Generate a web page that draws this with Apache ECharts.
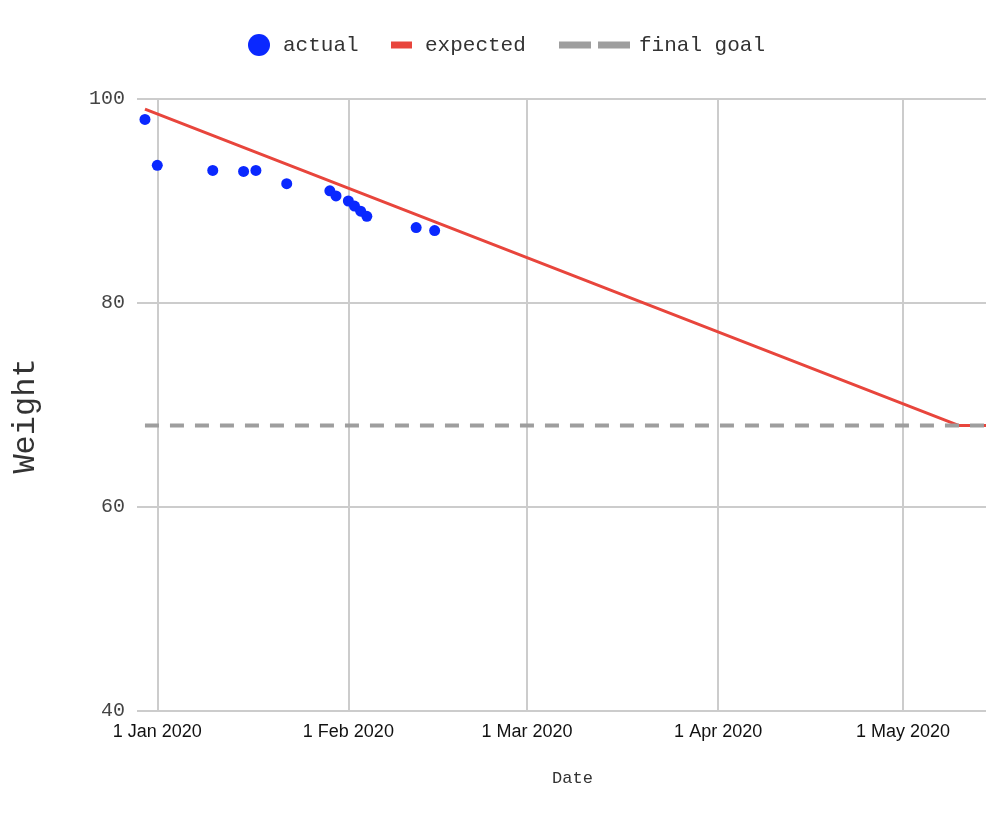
<!DOCTYPE html>
<html>
<head>
<meta charset="utf-8">
<title>Weight</title>
<script src="https://cdn.jsdelivr.net/npm/echarts@6.0.0/dist/echarts.min.js"></script>
<style>
  html, body { margin: 0; padding: 0; background: #fff; }
  #chart { width: 986px; height: 834px; }
</style>
</head>
<body>
<div id="chart"></div>
<script>
// data
var actualDates = ['2019-12-30', '2020-01-01', '2020-01-10', '2020-01-15', '2020-01-17', '2020-01-22',
  '2020-01-29', '2020-01-30', '2020-02-01', '2020-02-02', '2020-02-03', '2020-02-04', '2020-02-12', '2020-02-15'];
var actualWeights = [98, 93.5, 93, 92.9, 93, 91.7, 91, 90.5, 90, 89.5, 89, 88.5, 87.4, 87.1];

var expectedDates = ['2019-12-30', '2020-05-10', '2020-05-16'];
var expectedWeights = [99, 68, 68];

var goalDates = ['2019-12-30', '2020-05-16'];
var goalWeights = [68, 68];

var monthNames = ['Jan', 'Feb', 'Mar', 'Apr', 'May', 'Jun', 'Jul', 'Aug', 'Sep', 'Oct', 'Nov', 'Dec'];
var yMin = 40, yMax = 100, yStep = 20;

function toTime(s) { return Date.parse(s + 'T00:00:00Z'); }
function pairs(dates, values) {
  return dates.map(function (d, i) { return [toTime(d), values[i]]; });
}

var xMin = Date.parse('2019-12-28T17:00:00Z');
var xMax = Date.parse('2020-05-14T11:00:00Z');

var mono = "'Liberation Mono', 'DejaVu Sans Mono', monospace";
var sans = "'Liberation Sans Narrow', 'Liberation Sans', Arial, sans-serif";

var chart = echarts.init(document.getElementById('chart'));

var legendText = { fontFamily: mono, fontSize: 21, color: '#333', lineHeight: 22 };

var option = {
  animation: false,
  useUTC: true,
  legend: [
    {
      left: 248, top: 34, padding: 0, selectedMode: false,
      itemWidth: 22, itemHeight: 22,
      data: [{ name: 'actual', icon: 'circle', itemStyle: { color: '#0a28ff' } }],
      textStyle: Object.assign({ padding: [0, 0, 0, 8] }, legendText)
    },
    {
      left: 391, top: 34, padding: 0, selectedMode: false,
      itemWidth: 21, itemHeight: 7,
      data: [{ name: 'expected', icon: 'rect', itemStyle: { color: '#e8453c' } }],
      textStyle: Object.assign({ padding: [0, 0, 0, 8] }, legendText)
    },
    {
      left: 559, top: 34, padding: 0, selectedMode: false,
      itemWidth: 71, itemHeight: 7,
      data: [{ name: 'final goal', icon: 'path://M0,0H32V7H0Z M39,0H71V7H39Z', itemStyle: { color: '#9e9e9e' } }],
      textStyle: Object.assign({ padding: [0, 0, 0, 4] }, legendText)
    }
  ],
  grid: { left: 137, right: 0, top: 99, bottom: 123 },
  xAxis: {
    type: 'time',
    min: xMin,
    max: xMax,
    minInterval: 28 * 86400000,
    name: 'Date',
    nameLocation: 'middle',
    nameGap: 59,
    nameTextStyle: { fontFamily: mono, fontSize: 17, color: '#333', padding: [0, 0, 0, 22] },
    axisLine: { show: false },
    axisTick: { show: false },
    axisLabel: {
      showMinLabel: false,
      showMaxLabel: false,
      margin: 12,
      fontFamily: sans,
      fontSize: 18,
      color: '#111',
      formatter: function (value) {
        var d = new Date(value);
        return d.getUTCDate() + ' ' + monthNames[d.getUTCMonth()] + ' ' + d.getUTCFullYear();
      }
    },
    splitLine: {
      show: true,
      showMinLine: false,
      showMaxLine: false,
      lineStyle: { color: '#cccccc', width: 2 }
    }
  },
  yAxis: {
    type: 'value',
    min: yMin,
    max: yMax,
    interval: yStep,
    name: 'Weight',
    nameLocation: 'middle',
    nameRotate: 90,
    nameGap: 95,
    nameTextStyle: { fontFamily: mono, fontSize: 32, color: '#333', padding: [0, 22, 0, 0] },
    axisLine: { show: false },
    axisTick: { show: false },
    axisLabel: { margin: 12, fontFamily: mono, fontSize: 20, color: '#444' },
    splitLine: { lineStyle: { color: '#cccccc', width: 2 } }
  },
  series: [
    {
      name: 'expected',
      type: 'line',
      data: pairs(expectedDates, expectedWeights),
      showSymbol: false,
      symbol: 'none',
      itemStyle: { color: '#e8453c' },
      lineStyle: { color: '#e8453c', width: 3 },
      z: 2
    },
    {
      name: 'final goal',
      type: 'line',
      data: pairs(goalDates, goalWeights),
      showSymbol: false,
      symbol: 'none',
      itemStyle: { color: '#9e9e9e' },
      lineStyle: { color: '#9e9e9e', width: 4, type: [14, 11] },
      z: 3
    },
    {
      name: 'actual',
      type: 'scatter',
      data: pairs(actualDates, actualWeights),
      symbolSize: 11,
      itemStyle: { color: '#0a28ff', opacity: 1 },
      z: 4
    }
  ]
};

chart.setOption(option);
</script>
</body>
</html>
